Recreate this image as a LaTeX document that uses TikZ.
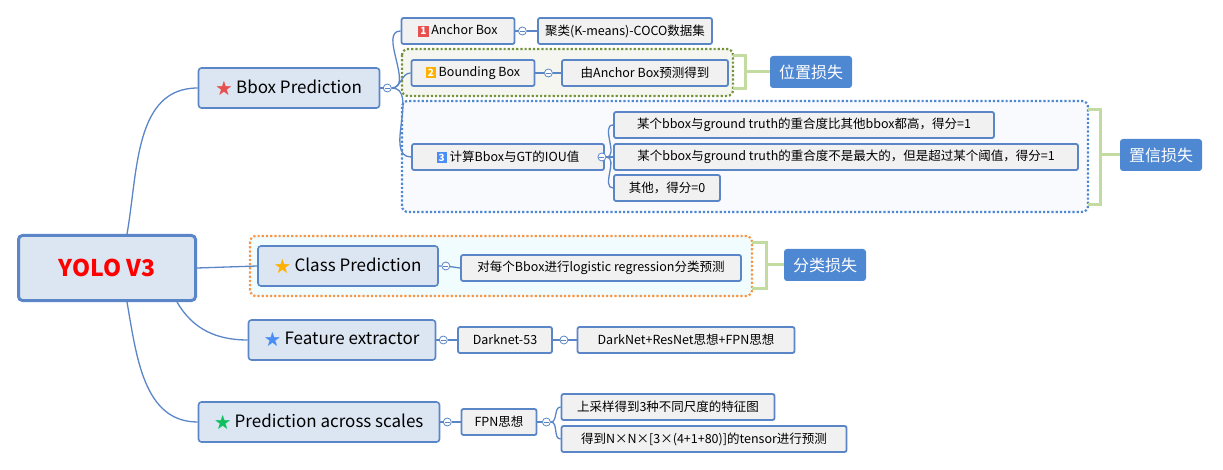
\documentclass[tikz,border=0pt]{standalone}
\usepackage{amssymb}
\usepackage{fontspec}
\setmainfont{Noto Sans CJK SC}
\usetikzlibrary{positioning}
\definecolor{edgeblue}{HTML}{5A86C8}
\definecolor{mainfill}{HTML}{DCE6F2}
\definecolor{leaffill}{HTML}{F1F1F1}
\definecolor{tagblue}{HTML}{4F88D2}
\definecolor{brgreen}{HTML}{C3DBA0}
\definecolor{dotgreen}{HTML}{76923C}
\definecolor{dotorange}{HTML}{F79646}
\definecolor{starred}{HTML}{E8504F}
\definecolor{staryellow}{HTML}{FFB000}
\definecolor{starblue}{HTML}{4A8EF5}
\definecolor{stargreen}{HTML}{10C060}
\newcommand\numtag[2]{{\setlength{\fboxsep}{2pt}\colorbox{#1}{\textcolor{white}{\fontsize{10}{10}\selectfont\bfseries #2}}}}
\newcommand\startag[1]{\textcolor{#1}{\LARGE$\bigstar$}}
\begin{document}
\begin{tikzpicture}[x=1pt,y=-1pt,
  root node/.style={draw=edgeblue,line width=3pt,fill=mainfill,rounded corners=4pt,minimum width=177pt,minimum height=65pt,font=\fontsize{23}{26}\selectfont\bfseries,text=red},
  main node/.style={draw=edgeblue,line width=1.6pt,fill=mainfill,rounded corners=3pt,minimum height=40pt,font=\fontsize{17}{20}\selectfont,inner xsep=6pt},
  leaf node/.style={draw=edgeblue,line width=1.8pt,fill=leaffill,rounded corners=2pt,minimum height=26pt,font=\fontsize{12.5}{14}\selectfont,inner xsep=6pt},
  tag node/.style={fill=tagblue,rounded corners=3pt,text=white,minimum height=32pt,font=\fontsize{16}{18}\selectfont,inner xsep=9pt},
  link/.style={edgeblue,line width=1.3pt},
  fold/.style={draw=edgeblue,fill=white,line width=0.8pt,circle,inner sep=0pt,minimum size=8pt,path picture={\draw[edgeblue,line width=0.8pt] ([xshift=-2.5pt]path picture bounding box.center) -- ([xshift=2.5pt]path picture bounding box.center);}},
  brace/.style={brgreen,line width=3pt}]
  \useasboundingbox (0,0) rectangle (1223,470);
  % group frames
  \draw[dotgreen,line width=2.2pt,dotted,fill=dotgreen!8,rounded corners=6pt] (402,49) rectangle (733,96);
  \draw[tagblue,line width=2.2pt,dotted,fill=tagblue!4,rounded corners=6pt] (402,101) rectangle (1088,212);
  \draw[dotorange,line width=2.2pt,dotted,fill=mainfill!70!cyan!15,rounded corners=6pt] (250,236) rectangle (752,296);
  % nodes
  \node[root node] (root) at (107,268) {YOLO V3};
  \node[main node,minimum width=181pt] (bbox) at (289,88) {\startag{starred} Bbox Prediction};
  \node[main node,minimum width=180pt] (cls) at (348,266) {\startag{staryellow} Class Prediction};
  \node[main node,minimum width=187pt] (feat) at (342,340) {\startag{starblue} Feature extractor};
  \node[main node,minimum width=241pt] (scale) at (319,422) {\startag{stargreen} Prediction across scales};
  \node[leaf node,minimum width=113pt] (anchor) at (458,31) {\numtag{starred}{1} Anchor Box};
  \node[leaf node,minimum width=174pt] (kmeans) at (625,31) {聚类(K-means)-COCO数据集};
  \node[leaf node,minimum width=123pt] (bound) at (473,73) {\numtag{staryellow}{2} Bounding Box};
  \node[leaf node,minimum width=166pt] (fromanc) at (645,73) {由Anchor Box预测得到};
  \node[leaf node,minimum width=192pt] (iou) at (508,157) {\numtag{starblue}{3} 计算Bbox与GT的IOU值};
  \node[leaf node,minimum width=380pt] (iouhi) at (804,125) {某个bbox与ground truth的重合度比其他bbox都高，得分=1};
  \node[leaf node,minimum width=464pt] (iouth) at (846,157) {某个bbox与ground truth的重合度不是最大的，但是超过某个阈值，得分=1};
  \node[leaf node,minimum width=106pt] (iouoth) at (667,188) {其他，得分=0};
  \node[leaf node,minimum width=280pt] (logit) at (601,268) {对每个Bbox进行logistic regression分类预测};
  \node[leaf node,minimum width=94pt] (dark) at (505,340) {Darknet-53};
  \node[leaf node,minimum width=217pt] (resnet) at (686,340) {DarkNet+ResNet思想+FPN思想};
  \node[leaf node,minimum width=75pt] (fpn) at (499,422) {FPN思想};
  \node[leaf node,minimum width=213pt] (upsam) at (668,407) {上采样得到3种不同尺度的特征图};
  \node[leaf node,minimum width=285pt] (tensor) at (704,439) {得到N×N×[3×(4+1+80)]的tensor进行预测};
  % tags
  \node[tag node] (posloss) at (811,72) {位置损失};
  \node[tag node] (confloss) at (1161,155) {置信损失};
  \node[tag node] (clsloss) at (825,265) {分类损失};
  % root links
  \draw[link] (root.north) ++(20,0) coordinate (r1) (r1) to[out=80,in=180] (bbox.west);
  \draw[link] (root.east) -- (cls.west);
  \draw[link] (root.south) ++(70,0) coordinate (r3) (r3) to[out=-60,in=180] (feat.west);
  \draw[link] (root.south) ++(20,0) coordinate (r4) (r4) to[out=-80,in=180] (scale.west);
  % branch links with fold markers
  \node[fold] (fbbox) at ([xshift=7pt]bbox.east) {};
  \draw[link] (bbox.east) -- (fbbox);
  \draw[link] (fbbox.east) to[out=0,in=180] (anchor.west);
  \draw[link] (fbbox.east) to[out=0,in=180] (bound.west);
  \draw[link] (fbbox.east) to[out=0,in=180] (iou.west);
  \node[fold] (fanc) at ([xshift=7pt]anchor.east) {};
  \draw[link] (anchor.east) -- (fanc) -- (kmeans.west);
  \node[fold] (fbnd) at ([xshift=13pt]bound.east) {};
  \draw[link] (bound.east) -- (fbnd) -- (fromanc.west);
  \node[fold] (fiou) at ([xshift=-3pt]iou.east) {};
  \draw[link] (fiou.east) to[out=0,in=180] (iouhi.west);
  \draw[link] (fiou.east) -- (iouth.west);
  \draw[link] (fiou.east) to[out=0,in=180] (iouoth.west);
  \node[fold] (fcls) at ([xshift=7pt]cls.east) {};
  \draw[link] (cls.east) -- (fcls) -- (logit.west);
  \node[fold] (ffeat) at ([xshift=7pt]feat.east) {};
  \draw[link] (feat.east) -- (ffeat) -- (dark.west);
  \node[fold] (fdark) at ([xshift=11pt]dark.east) {};
  \draw[link] (dark.east) -- (fdark) -- (resnet.west);
  \node[fold] (fscale) at ([xshift=7pt]scale.east) {};
  \draw[link] (scale.east) -- (fscale) -- (fpn.west);
  \node[fold] (ffpn) at ([xshift=9pt]fpn.east) {};
  \draw[link] (fpn.east) -- (ffpn);
  \draw[link] (ffpn.east) to[out=0,in=180] (upsam.west);
  \draw[link] (ffpn.east) to[out=0,in=180] (tensor.west);
  % brackets to tags
  \draw[brace] (733,56) -- (745,56) -- (745,89) -- (733,89) (745,72) -- (posloss.west);
  \draw[brace] (1088,110) -- (1100,110) -- (1100,205) -- (1088,205) (1100,155) -- (confloss.west);
  \draw[brace] (752,243) -- (766,243) -- (766,289) -- (752,289) (766,265) -- (clsloss.west);
\end{tikzpicture}
\end{document}
